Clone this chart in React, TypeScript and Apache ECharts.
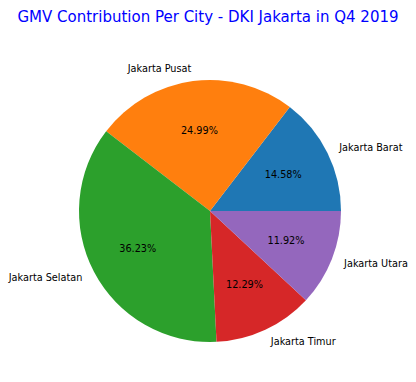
import React, { useEffect, useRef } from "react";
import * as echarts from "echarts";

const cities = ["Jakarta Barat", "Jakarta Pusat", "Jakarta Selatan", "Jakarta Timur", "Jakarta Utara"];
const shares = [14.58, 24.99, 36.23, 12.29, 11.92];
const colors = ["#1f77b4", "#ff7f0e", "#2ca02c", "#d62728", "#9467bd"];
const titleText = "GMV Contribution Per City - DKI Jakarta in Q4 2019";

const FONT = "DejaVu Sans";
const CX = 210;
const CY = 211;
const R = 131;

export default function App() {
  const ref = useRef<HTMLDivElement>(null);
  useEffect(() => {
    if (!ref.current) return;
    const chart = echarts.init(ref.current, null, { renderer: "svg" });
    const data = cities.map((c, i) => ({ name: c, value: shares[i], itemStyle: { color: colors[i] } }));
    chart.setOption({
      animation: false,
      backgroundColor: "#ffffff",
      title: {
        text: titleText,
        left: "center",
        top: 4,
        textStyle: { color: "#0000ff", fontFamily: FONT, fontSize: 15, fontWeight: "normal" },
      },
      series: [
        {
          type: "pie",
          center: [CX, CY],
          radius: [0, R],
          startAngle: 0,
          clockwise: false,
          avoidLabelOverlap: false,
          silent: true,
          data,
          label: {
            show: true,
            position: "outside",
            formatter: "{b}",
            fontFamily: FONT,
            fontSize: 9.7,
            color: "#000",
            distanceToLabelLine: 0,
          },
          labelLine: { show: false, length: R * 0.1, length2: 0 },
        },
        {
          type: "pie",
          center: [CX, CY],
          radius: [0, R * 1.2],
          startAngle: 0,
          clockwise: false,
          avoidLabelOverlap: false,
          silent: true,
          data: cities.map((c, i) => ({ name: c, value: shares[i], itemStyle: { color: "rgba(0,0,0,0)" } })),
          label: {
            show: true,
            position: "inside",
            formatter: (p: any) => p.value.toFixed(2) + "%",
            fontFamily: FONT,
            fontSize: 9.7,
            color: "#000",
          },
          labelLine: { show: false },
        },
      ],
    });
    return () => chart.dispose();
  }, []);
  return <div ref={ref} style={{ position: "absolute", left: 0, top: 0, width: 416, height: 382 }} />;
}
